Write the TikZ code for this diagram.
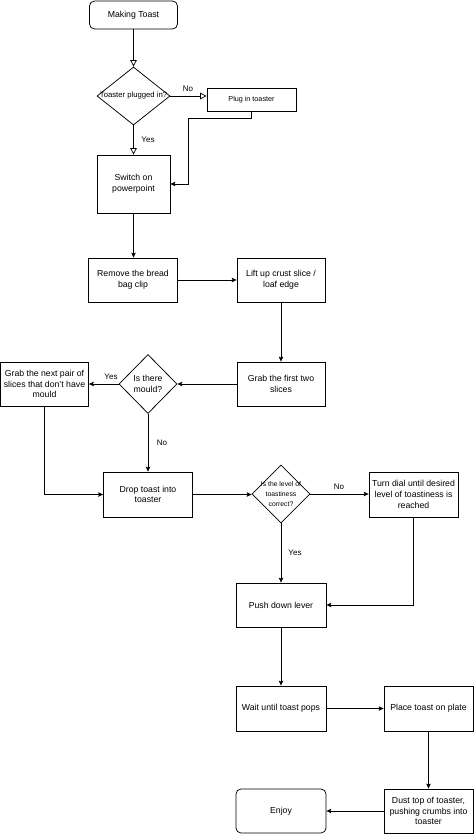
\documentclass[tikz,border=0pt]{standalone}
\usepackage{fontspec}
\setmainfont{Liberation Sans}
\usetikzlibrary{shapes.geometric,arrows.meta}
\begin{document}
\begin{tikzpicture}[x=1pt,y=-1pt,
  line width=0.75pt,
  box/.style={draw=black, rectangle, minimum width=89pt, minimum height=44pt, inner sep=0pt, align=center, font=\fontsize{8.7}{10.7}\selectfont},
  rbox/.style={box, rounded corners=5pt},
  dia/.style={draw=black, diamond, inner sep=0pt},
  dtext/.style={align=center, inner sep=0pt},
  lbl/.style={font=\fontsize{8}{9}\selectfont, inner sep=0pt},
  hollow/.style={-{Triangle[open,length=6.5pt,width=6.5pt,fill=white]}},
  filled/.style={-{Stealth[length=5pt,width=4.5pt,inset=1pt]}}
]
\useasboundingbox (0,0) rectangle (474,835);

% nodes
\node[rbox, minimum width=88pt, minimum height=28pt] (start) at (133.5,15) {Making Toast};
\node[dia, minimum width=73pt, minimum height=58pt] (d1) at (133.5,96) {};
\node[dtext, font=\fontsize{7.7}{9}\selectfont] (d1t) at (d1.center) {Toaster plugged in?};
\node[box, minimum height=23pt, font=\fontsize{7.2}{9}\selectfont] (plug) at (251.5,99.5) {Plug in toaster};
\node[box, minimum width=73pt, minimum height=58pt] (switch) at (133.5,184) {Switch on\\powerpoint};
\node[box] (remove) at (133,280) {Remove the bread\\bag clip};
\node[box, minimum width=88pt] (lift) at (281,280) {Lift up crust slice /\\loaf edge};
\node[box, minimum width=88pt] (grab1) at (281,384) {Grab the first two\\slices};
\node[dia, minimum width=58pt, minimum height=59pt] (d2) at (148,384) {};
\node[dtext, font=\fontsize{8.7}{10.4}\selectfont] (d2t) at (d2.center) {Is there\\mould?};
\node[box, minimum width=88pt] (grab2) at (44.5,384) {Grab the next pair of\\slices that don't have\\mould};
\node[box, minimum height=45pt] (drop) at (148,494.5) {Drop toast into\\toaster};
\node[dia, minimum width=58pt, minimum height=58pt] (d3) at (281,494) {};
\node[dtext, font=\fontsize{6.8}{10.3}\selectfont] (d3t) at (d3.center) {Is the level of\\toastiness\\correct?};
\node[box, minimum height=45pt] (dial) at (413.5,494.5) {Turn dial until desired\\level of toastiness is\\reached};
\node[box, minimum width=90pt] (push) at (281,605) {Push down lever};
\node[box, minimum width=90pt, minimum height=45pt] (wait) at (281,708.5) {Wait until toast pops};
\node[box, minimum height=45pt] (place) at (428.5,708.5) {Place toast on plate};
\node[box] (dust) at (428.5,811) {Dust top of toaster,\\pushing crumbs into\\toaster};
\node[rbox, minimum width=90pt] (enjoy) at (281,811) {Enjoy};

% connectors
\draw[hollow] (start.south) -- (start.south |- d1.north);
\draw[hollow] (d1.east) -- (d1.east -| plug.west);
\node[lbl] (lno1) at (188,89) {No};
\draw[hollow] (d1.south) -- (d1.south |- switch.north);
\node[lbl] (lyes1) at (148,140) {Yes};
\coordinate (c1) at (188,118);
\draw[filled] (plug.south) |- (c1) |- (switch.east);
\draw[filled] (switch.south) -- (switch.south |- remove.north);
\draw[filled] (remove.east) -- (remove.east -| lift.west);
\draw[filled] (lift.south) -- (lift.south |- grab1.north);
\draw[filled] (grab1.west) -- (grab1.west -| d2.east);
\draw[filled] (d2.west) -- (d2.west -| grab2.east);
\node[lbl] (lyes2) at (111,377) {Yes};
\draw[filled] (d2.south) -- (d2.south |- drop.north);
\node[lbl] (lno2) at (162,443) {No};
\draw[filled] (grab2.south) |- (drop.west);
\draw[filled] (drop.east) -- (drop.east -| d3.west);
\draw[filled] (d3.east) -- (d3.east -| dial.west);
\node[lbl] (lno3) at (339,487) {No};
\draw[filled] (d3.south) -- (d3.south |- push.north);
\node[lbl] (lyes3) at (295,553) {Yes};
\draw[filled] (dial.south) |- (push.east);
\draw[filled] (push.south) -- (push.south |- wait.north);
\draw[filled] (wait.east) -- (wait.east -| place.west);
\draw[filled] (place.south) -- (place.south |- dust.north);
\draw[filled] (dust.west) -- (dust.west -| enjoy.east);
\end{tikzpicture}
\end{document}
